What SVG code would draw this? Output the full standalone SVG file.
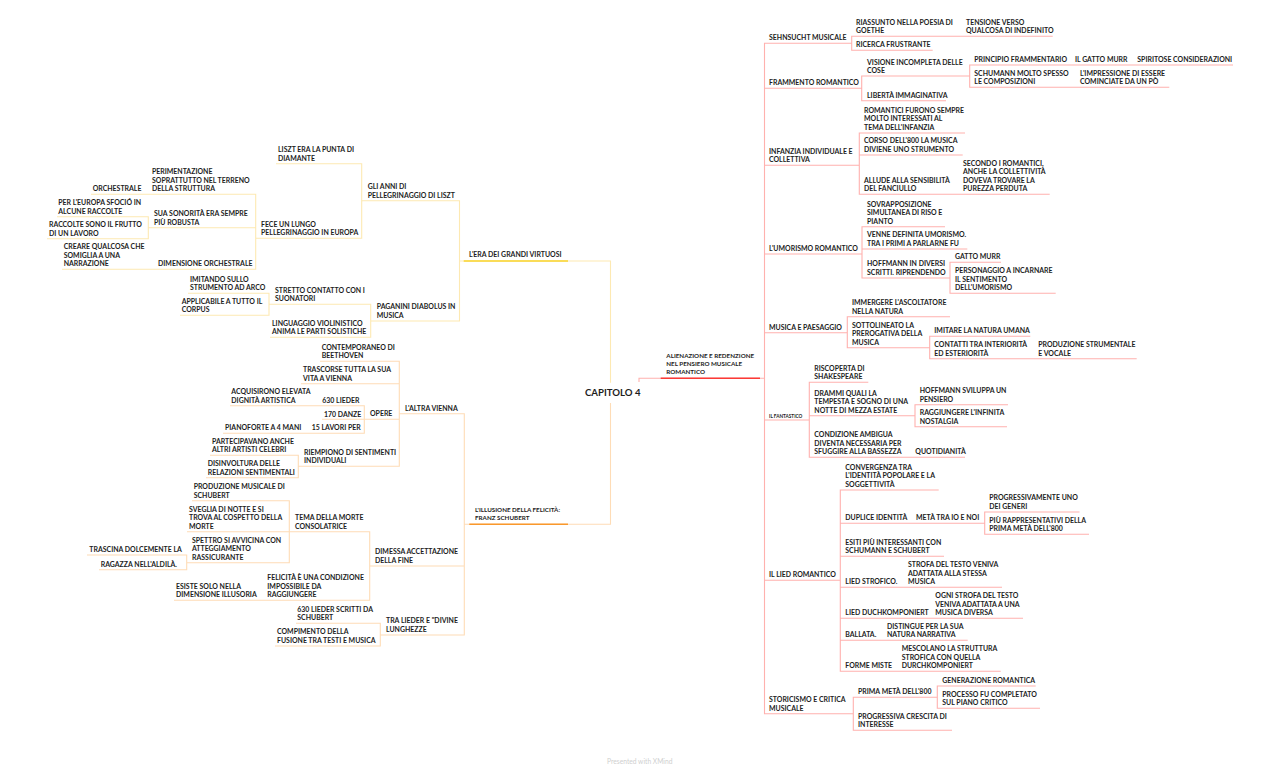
<svg xmlns="http://www.w3.org/2000/svg" width="1280" height="771" viewBox="0 0 1280 771">
<style>
text{font-family:"Lato","Noto Sans",sans-serif;font-weight:700;font-size:6.95px;fill:#1d1d1d;transform:translateY(.4px)}
.c{fill:none;stroke-width:1.1}
.y{stroke:#fde9b2}.o{stroke:#fedcb6}.r{stroke:#ffb1ae}
.m{fill:none;stroke-width:1.6}
.b{font-size:6.25px}
</style>
<rect width="1280" height="771" fill="#fff"/>
<g id="connectors">
<path class="c y" d="M610.5 382.7V261H459.5M459.5 261V200.7H361.7M459.5 261V321H370.7M361.7 200.7V163.7H276M361.7 200.7V238.3H255.7M255.7 238.3V194.3H91M255.7 238.3V227.7H148.3M255.7 238.3V269.3H62M148.3 227.7V216.7H57M148.3 227.7V238.7H47M370.7 321V304.3H269M370.7 321V337.3H270M269 304.3V293.3H188M269 304.3V315.3H180"/>
<path class="c o" d="M610.5 403V524.3H464.3M464.3 524.3V413.7H399.3M464.3 524.3V566H370M464.3 524.3V635H380.3M399.3 413.7V361.3H320M399.3 413.7V383.7H301M399.3 413.7V419.3H364.3M399.3 413.7V466.3H298.3M364.3 419.3V405.7H230M364.3 419.3H322M364.3 419.3V433.3H223M298.3 466.3V455.3H210M298.3 466.3V477.7H206M369.7 566V531.7H187M369.7 566V600.3H174M289.3 531.7V500.7H192M289.3 531.7V562.7H186.7M186.7 562.7V555H87M186.7 562.7V569.7H99M380.3 635V623.3H296M380.3 635V646H275"/>
<path class="c r" d="M639 382V378.3H764.5M764.5 378.3V43.3H851.7M851.7 43.3V36.3H1052.7M851.7 43.3V50.3H932.7M764.5 378.3V88.3H861.7M861.7 88.3V76H969.7M861.7 88.3V100.7H946M969.7 76V65H1233M969.7 76V87.3H1169.3M764.5 378.3V165.3H859.3M859.3 165.3V133H965M859.3 165.3V155H962.7M859.3 165.3V194.3H1049.7M764.5 378.3V254H862M862 254V226.7H945M862 254V249H967.3M862 254V278H950M950 278V262.3H1001M950 278V293.3H1055.7M764.5 378.3V332.7H847.3M847.3 332.7V316.7H950M847.3 332.7V347.7H929.7M929.7 347.7V336.3H1030.3M929.7 347.7V358.7H1136.7M764.5 378.3V420H809.3M809.3 420V382.3H868.3M809.3 420V415.7H915M809.3 420V457.3H965M915 415.7V404.7H1008M915 415.7V426.7H1007M764.5 378.3V580.3H840.3M840.3 580.3V490H938.7M840.3 580.3V523.3H984.7M984.7 523.3V512H1079.5M984.7 523.3V534.3H1089M840.3 580.3V556.3H944M840.3 580.3V587.3H1002M840.3 580.3V618.3H1023M840.3 580.3V640.3H967.7M840.3 580.3V671.3H1000.7M764.5 378.3V713.7H853.3M853.3 713.7V697.3H937.3M853.3 713.7V730.3H952M937.3 697.3V686H1035.7M937.3 697.3V708.3H1040"/>
</g>
<g id="center"><text x="585" y="396" style="font-size:9.6px">CAPITOLO 4</text></g>
<g id="virtuosi"><text x="469" y="256.7">L'ERA DEI GRANDI VIRTUOSI</text><path class="m" stroke="#f8d52e" d="M463.7 261H568"/></g>
<g id="schubert"><text class="b" x="475" y="511.7">L'ILLUSIONE DELLA FELICITÀ:<tspan x="475" dy="8.3">FRANZ SCHUBERT</tspan></text><path class="m" stroke="#f9982c" d="M469.3 524.3H568"/></g>
<g id="alienazione"><text class="b" x="666.3" y="358">ALIENAZIONE E REDENZIONE<tspan x="666.3" dy="8">NEL PENSIERO MUSICALE</tspan><tspan x="666.3" dy="8">ROMANTICO</tspan></text><path class="m" stroke="#fb3a36" d="M660.7 378.3H760"/></g>
<g id="n-liszt"><text x="278" y="151.8">LISZT ERA LA PUNTA DI<tspan x="278" dy="8.6">DIAMANTE</tspan></text></g>
<g id="n-anni"><text x="367.7" y="188.8">GLI ANNI DI<tspan x="367.7" dy="8.6">PELLEGRINAGGIO DI LISZT</tspan></text></g>
<g id="n-fece"><text x="261" y="226.4">FECE UN LUNGO<tspan x="261" dy="8.6">PELLEGRINAGGIO IN EUROPA</tspan></text></g>
<g id="n-perim"><text x="152" y="173.8">PERIMENTAZIONE<tspan x="152" dy="8.6">SOPRATTUTTO NEL TERRENO</tspan><tspan x="152" dy="8.6">DELLA STRUTTURA</tspan></text></g>
<g id="n-orch"><text x="92.7" y="191">ORCHESTRALE</text></g>
<g id="n-sua"><text x="154" y="215.8">SUA SONORITÀ ERA SEMPRE<tspan x="154" dy="8.6">PIÙ ROBUSTA</tspan></text></g>
<g id="n-per"><text x="58.3" y="204.8">PER L'EUROPA SFOCIÓ IN<tspan x="58.3" dy="8.6">ALCUNE RACCOLTE</tspan></text></g>
<g id="n-racc"><text x="49" y="226.8">RACCOLTE SONO IL FRUTTO<tspan x="49" dy="8.6">DI UN LAVORO</tspan></text></g>
<g id="n-dim"><text x="158" y="266">DIMENSIONE ORCHESTRALE</text></g>
<g id="n-crea"><text x="63.7" y="248.8">CREARE QUALCOSA CHE<tspan x="63.7" dy="8.6">SOMIGLIA A UNA</tspan><tspan x="63.7" dy="8.6">NARRAZIONE</tspan></text></g>
<g id="n-imit"><text x="190" y="281.4">IMITANDO SULLO<tspan x="190" dy="8.6">STRUMENTO AD ARCO</tspan></text></g>
<g id="n-appl"><text x="181.7" y="303.4">APPLICABILE A TUTTO IL<tspan x="181.7" dy="8.6">CORPUS</tspan></text></g>
<g id="n-stre"><text x="275" y="292.4">STRETTO CONTATTO CON I<tspan x="275" dy="8.6">SUONATORI</tspan></text></g>
<g id="n-ling"><text x="272" y="325.4">LINGUAGGIO VIOLINISTICO<tspan x="272" dy="8.6">ANIMA LE PARTI SOLISTICHE</tspan></text></g>
<g id="n-paga"><text x="376.7" y="309.1">PAGANINI DIABOLUS IN<tspan x="376.7" dy="8.6">MUSICA</tspan></text></g>
<g id="n-cont"><text x="321.7" y="349.4">CONTEMPORANEO DI<tspan x="321.7" dy="8.6">BEETHOVEN</tspan></text></g>
<g id="n-tras"><text x="303" y="371.8">TRASCORSE TUTTA LA SUA<tspan x="303" dy="8.6">VITA A VIENNA</tspan></text></g>
<g id="n-630"><text x="322.3" y="402.4">630 LIEDER</text></g>
<g id="n-acq"><text x="231.3" y="393.8">ACQUISIRONO ELEVATA<tspan x="231.3" dy="8.6">DIGNITÀ ARTISTICA</tspan></text></g>
<g id="n-170"><text x="324" y="416.4">170 DANZE</text></g>
<g id="n-opere"><text x="370" y="416">OPERE</text></g>
<g id="n-15"><text x="311.7" y="430">15 LAVORI PER</text></g>
<g id="n-piano"><text x="225" y="430">PIANOFORTE A 4 MANI</text></g>
<g id="n-riem"><text x="304" y="454.4">RIEMPIONO DI SENTIMENTI<tspan x="304" dy="8.6">INDIVIDUALI</tspan></text></g>
<g id="n-part"><text x="212" y="443.4">PARTECIPAVANO ANCHE<tspan x="212" dy="8.6">ALTRI ARTISTI CELEBRI</tspan></text></g>
<g id="n-disi"><text x="207.7" y="465.8">DISINVOLTURA DELLE<tspan x="207.7" dy="8.6">RELAZIONI SENTIMENTALI</tspan></text></g>
<g id="n-altra"><text x="405" y="410.4">L'ALTRA VIENNA</text></g>
<g id="n-prod"><text x="193.7" y="488.8">PRODUZIONE MUSICALE DI<tspan x="193.7" dy="8.6">SCHUBERT</tspan></text></g>
<g id="n-sveg"><text x="189" y="511.2">SVEGLIA DI NOTTE E SI<tspan x="189" dy="8.6">TROVA AL COSPETTO DELLA</tspan><tspan x="189" dy="8.6">MORTE</tspan></text></g>
<g id="n-tema"><text x="295" y="519.8">TEMA DELLA MORTE<tspan x="295" dy="8.6">CONSOLATRICE</tspan></text></g>
<g id="n-spet"><text x="192" y="542.2">SPETTRO SI AVVICINA CON<tspan x="192" dy="8.6">ATTEGGIAMENTO</tspan><tspan x="192" dy="8.6">RASSICURANTE</tspan></text></g>
<g id="n-trasc"><text x="89.3" y="551.7">TRASCINA DOLCEMENTE LA</text></g>
<g id="n-raga"><text x="100.7" y="566.4">RAGAZZA NELL'ALDILÀ.</text></g>
<g id="n-feli"><text x="267.3" y="579.8">FELICITÀ È UNA CONDIZIONE<tspan x="267.3" dy="8.6">IMPOSSIBILE DA</tspan><tspan x="267.3" dy="8.6">RAGGIUNGERE</tspan></text></g>
<g id="n-esis"><text x="176" y="588.4">ESISTE SOLO NELLA<tspan x="176" dy="8.6">DIMENSIONE ILLUSORIA</tspan></text></g>
<g id="n-dime"><text x="375" y="554.1">DIMESSA ACCETTAZIONE<tspan x="375" dy="8.6">DELLA FINE</tspan></text></g>
<g id="n-630s"><text x="297.3" y="611.4">630 LIEDER SCRITTI DA<tspan x="297.3" dy="8.6">SCHUBERT</tspan></text></g>
<g id="n-comp"><text x="277" y="634.1">COMPIMENTO DELLA<tspan x="277" dy="8.6">FUSIONE TRA TESTI E MUSICA</tspan></text></g>
<g id="n-tral"><text x="386" y="623.1">TRA LIEDER E "DIVINE<tspan x="386" dy="8.6">LUNGHEZZE</tspan></text></g>
<g id="n-sehn"><text x="769" y="40">SEHNSUCHT MUSICALE</text></g>
<g id="n-rias"><text x="856" y="24.4">RIASSUNTO NELLA POESIA DI<tspan x="856" dy="8.6">GOETHE</tspan></text></g>
<g id="n-tens"><text x="966" y="24.4">TENSIONE VERSO<tspan x="966" dy="8.6">QUALCOSA DI INDEFINITO</tspan></text></g>
<g id="n-rice"><text x="856" y="47">RICERCA FRUSTRANTE</text></g>
<g id="n-fram"><text x="769" y="85">FRAMMENTO ROMANTICO</text></g>
<g id="n-visi"><text x="867" y="64.2">VISIONE INCOMPLETA DELLE<tspan x="867" dy="8.6">COSE</tspan></text></g>
<g id="n-libe"><text x="867" y="97.4">LIBERTÀ IMMAGINATIVA</text></g>
<g id="n-prin"><text x="974.3" y="61.7">PRINCIPIO FRAMMENTARIO</text></g>
<g id="n-gatt"><text x="1075" y="61.7">IL GATTO MURR</text></g>
<g id="n-spir"><text x="1137.3" y="61.7">SPIRITOSE CONSIDERAZIONI</text></g>
<g id="n-schu"><text x="974.3" y="75.4">SCHUMANN MOLTO SPESSO<tspan x="974.3" dy="8.6">LE COMPOSIZIONI</tspan></text></g>
<g id="n-impr"><text x="1080" y="75.4">L'IMPRESSIONE DI ESSERE<tspan x="1080" dy="8.6">COMINCIATE DA UN PÒ</tspan></text></g>
<g id="n-infa"><text x="769" y="153.4">INFANZIA INDIVIDUALE E<tspan x="769" dy="8.6">COLLETTIVA</tspan></text></g>
<g id="n-roma"><text x="864" y="112.5">ROMANTICI FURONO SEMPRE<tspan x="864" dy="8.6">MOLTO INTERESSATI AL</tspan><tspan x="864" dy="8.6">TEMA DELL'INFANZIA</tspan></text></g>
<g id="n-cors"><text x="864" y="143.1">CORSO DELL'800 LA MUSICA<tspan x="864" dy="8.6">DIVIENE UNO STRUMENTO</tspan></text></g>
<g id="n-allu"><text x="864" y="182.4">ALLUDE ALLA SENSIBILITÀ<tspan x="864" dy="8.6">DEL FANCIULLO</tspan></text></g>
<g id="n-seco"><text x="963" y="165.2">SECONDO I ROMANTICI,<tspan x="963" dy="8.6">ANCHE LA COLLETTIVITÀ</tspan><tspan x="963" dy="8.6">DOVEVA TROVARE LA</tspan><tspan x="963" dy="8.6">PUREZZA PERDUTA</tspan></text></g>
<g id="n-umor"><text x="769" y="250.7">L'UMORISMO ROMANTICO</text></g>
<g id="n-sovr"><text x="867" y="206.2">SOVRAPPOSIZIONE<tspan x="867" dy="8.6">SIMULTANEA DI RISO E</tspan><tspan x="867" dy="8.6">PIANTO</tspan></text></g>
<g id="n-venn"><text x="867" y="237.1">VENNE DEFINITA UMORISMO.<tspan x="867" dy="8.6">TRA I PRIMI A PARLARNE FU</tspan></text></g>
<g id="n-hoff"><text x="867" y="266.1">HOFFMANN IN DIVERSI<tspan x="867" dy="8.6">SCRITTI. RIPRENDENDO</tspan></text></g>
<g id="n-gatm"><text x="955" y="259">GATTO MURR</text></g>
<g id="n-pers"><text x="955" y="272.8">PERSONAGGIO A INCARNARE<tspan x="955" dy="8.6">IL SENTIMENTO</tspan><tspan x="955" dy="8.6">DELL'UMORISMO</tspan></text></g>
<g id="n-paes"><text x="769" y="329.4">MUSICA E PAESAGGIO</text></g>
<g id="n-imme"><text x="852" y="304.8">IMMERGERE L'ASCOLTATORE<tspan x="852" dy="8.6">NELLA NATURA</tspan></text></g>
<g id="n-sott"><text x="852" y="327.2">SOTTOLINEATO LA<tspan x="852" dy="8.6">PREROGATIVA DELLA</tspan><tspan x="852" dy="8.6">MUSICA</tspan></text></g>
<g id="n-imitn"><text x="934.3" y="333">IMITARE LA NATURA UMANA</text></g>
<g id="n-cont2"><text x="934.3" y="346.8">CONTATTI TRA INTERIORITÀ<tspan x="934.3" dy="8.6">ED ESTERIORITÀ</tspan></text></g>
<g id="n-prod2"><text x="1038.3" y="346.8">PRODUZIONE STRUMENTALE<tspan x="1038.3" dy="8.6">E VOCALE</tspan></text></g>
<g id="n-fant"><text x="769" y="417.3" style="font-size:4.7px">IL FANTASTICO</text></g>
<g id="n-risc"><text x="814.3" y="370.4">RISCOPERTA DI<tspan x="814.3" dy="8.6">SHAKESPEARE</tspan></text></g>
<g id="n-dram"><text x="814.3" y="395.2">DRAMMI QUALI LA<tspan x="814.3" dy="8.6">TEMPESTA E SOGNO DI UNA</tspan><tspan x="814.3" dy="8.6">NOTTE DI MEZZA ESTATE</tspan></text></g>
<g id="n-cond"><text x="814.3" y="436.8">CONDIZIONE AMBIGUA<tspan x="814.3" dy="8.6">DIVENTA NECESSARIA PER</tspan><tspan x="814.3" dy="8.6">SFUGGIRE ALLA BASSEZZA</tspan></text></g>
<g id="n-quot"><text x="915.3" y="454">QUOTIDIANITÀ</text></g>
<g id="n-hofs"><text x="919.7" y="392.8">HOFFMANN SVILUPPA UN<tspan x="919.7" dy="8.6">PENSIERO</tspan></text></g>
<g id="n-ragg"><text x="919.7" y="414.8">RAGGIUNGERE L'INFINITA<tspan x="919.7" dy="8.6">NOSTALGIA</tspan></text></g>
<g id="n-conv"><text x="845.3" y="469.5">CONVERGENZA TRA<tspan x="845.3" dy="8.6">L'IDENTITÀ POPOLARE E LA</tspan><tspan x="845.3" dy="8.6">SOGGETTIVITÀ</tspan></text></g>
<g id="n-dupl"><text x="845.3" y="520">DUPLICE IDENTITÀ</text></g>
<g id="n-meta"><text x="916" y="520">METÀ TRA IO E NOI</text></g>
<g id="n-prog"><text x="989.3" y="500.1">PROGRESSIVAMENTE UNO<tspan x="989.3" dy="8.6">DEI GENERI</tspan></text></g>
<g id="n-piur"><text x="989.3" y="522.4">PIÙ RAPPRESENTATIVI DELLA<tspan x="989.3" dy="8.6">PRIMA METÀ DELL'800</tspan></text></g>
<g id="n-lied"><text x="769" y="577">IL LIED ROMANTICO</text></g>
<g id="n-esit"><text x="845.3" y="544.4">ESITI PIÙ INTERESSANTI CON<tspan x="845.3" dy="8.6">SCHUMANN E SCHUBERT</tspan></text></g>
<g id="n-lstr"><text x="845.3" y="584">LIED STROFICO.</text></g>
<g id="n-stro"><text x="908" y="566.8">STROFA DEL TESTO VENIVA<tspan x="908" dy="8.6">ADATTATA ALLA STESSA</tspan><tspan x="908" dy="8.6">MUSICA</tspan></text></g>
<g id="n-ldur"><text x="845.3" y="615">LIED DUCHKOMPONIERT</text></g>
<g id="n-ogni"><text x="935.3" y="597.8">OGNI STROFA DEL TESTO<tspan x="935.3" dy="8.6">VENIVA ADATTATA A UNA</tspan><tspan x="935.3" dy="8.6">MUSICA DIVERSA</tspan></text></g>
<g id="n-ball"><text x="845.3" y="637">BALLATA.</text></g>
<g id="n-dist"><text x="887" y="628.4">DISTINGUE PER LA SUA<tspan x="887" dy="8.6">NATURA NARRATIVA</tspan></text></g>
<g id="n-form"><text x="845.3" y="668">FORME MISTE</text></g>
<g id="n-mesc"><text x="901.7" y="650.8">MESCOLANO LA STRUTTURA<tspan x="901.7" dy="8.6">STROFICA CON QUELLA</tspan><tspan x="901.7" dy="8.6">DURCHKOMPONIERT</tspan></text></g>
<g id="n-stor"><text x="769" y="701.8">STORICISMO E CRITICA<tspan x="769" dy="8.6">MUSICALE</tspan></text></g>
<g id="n-prim"><text x="858" y="694">PRIMA METÀ DELL'800</text></g>
<g id="n-pcre"><text x="858" y="718.4">PROGRESSIVA CRESCITA DI<tspan x="858" dy="8.6">INTERESSE</tspan></text></g>
<g id="n-gene"><text x="942.3" y="682.7">GENERAZIONE ROMANTICA</text></g>
<g id="n-proc"><text x="942.3" y="696.4">PROCESSO FU COMPLETATO<tspan x="942.3" dy="8.6">SUL PIANO CRITICO</tspan></text></g>
<g id="footer"><text x="607" y="763.4" style="font-size:6.7px;font-weight:400;fill:#cfcfcf">Presented with XMind</text></g>
</svg>
